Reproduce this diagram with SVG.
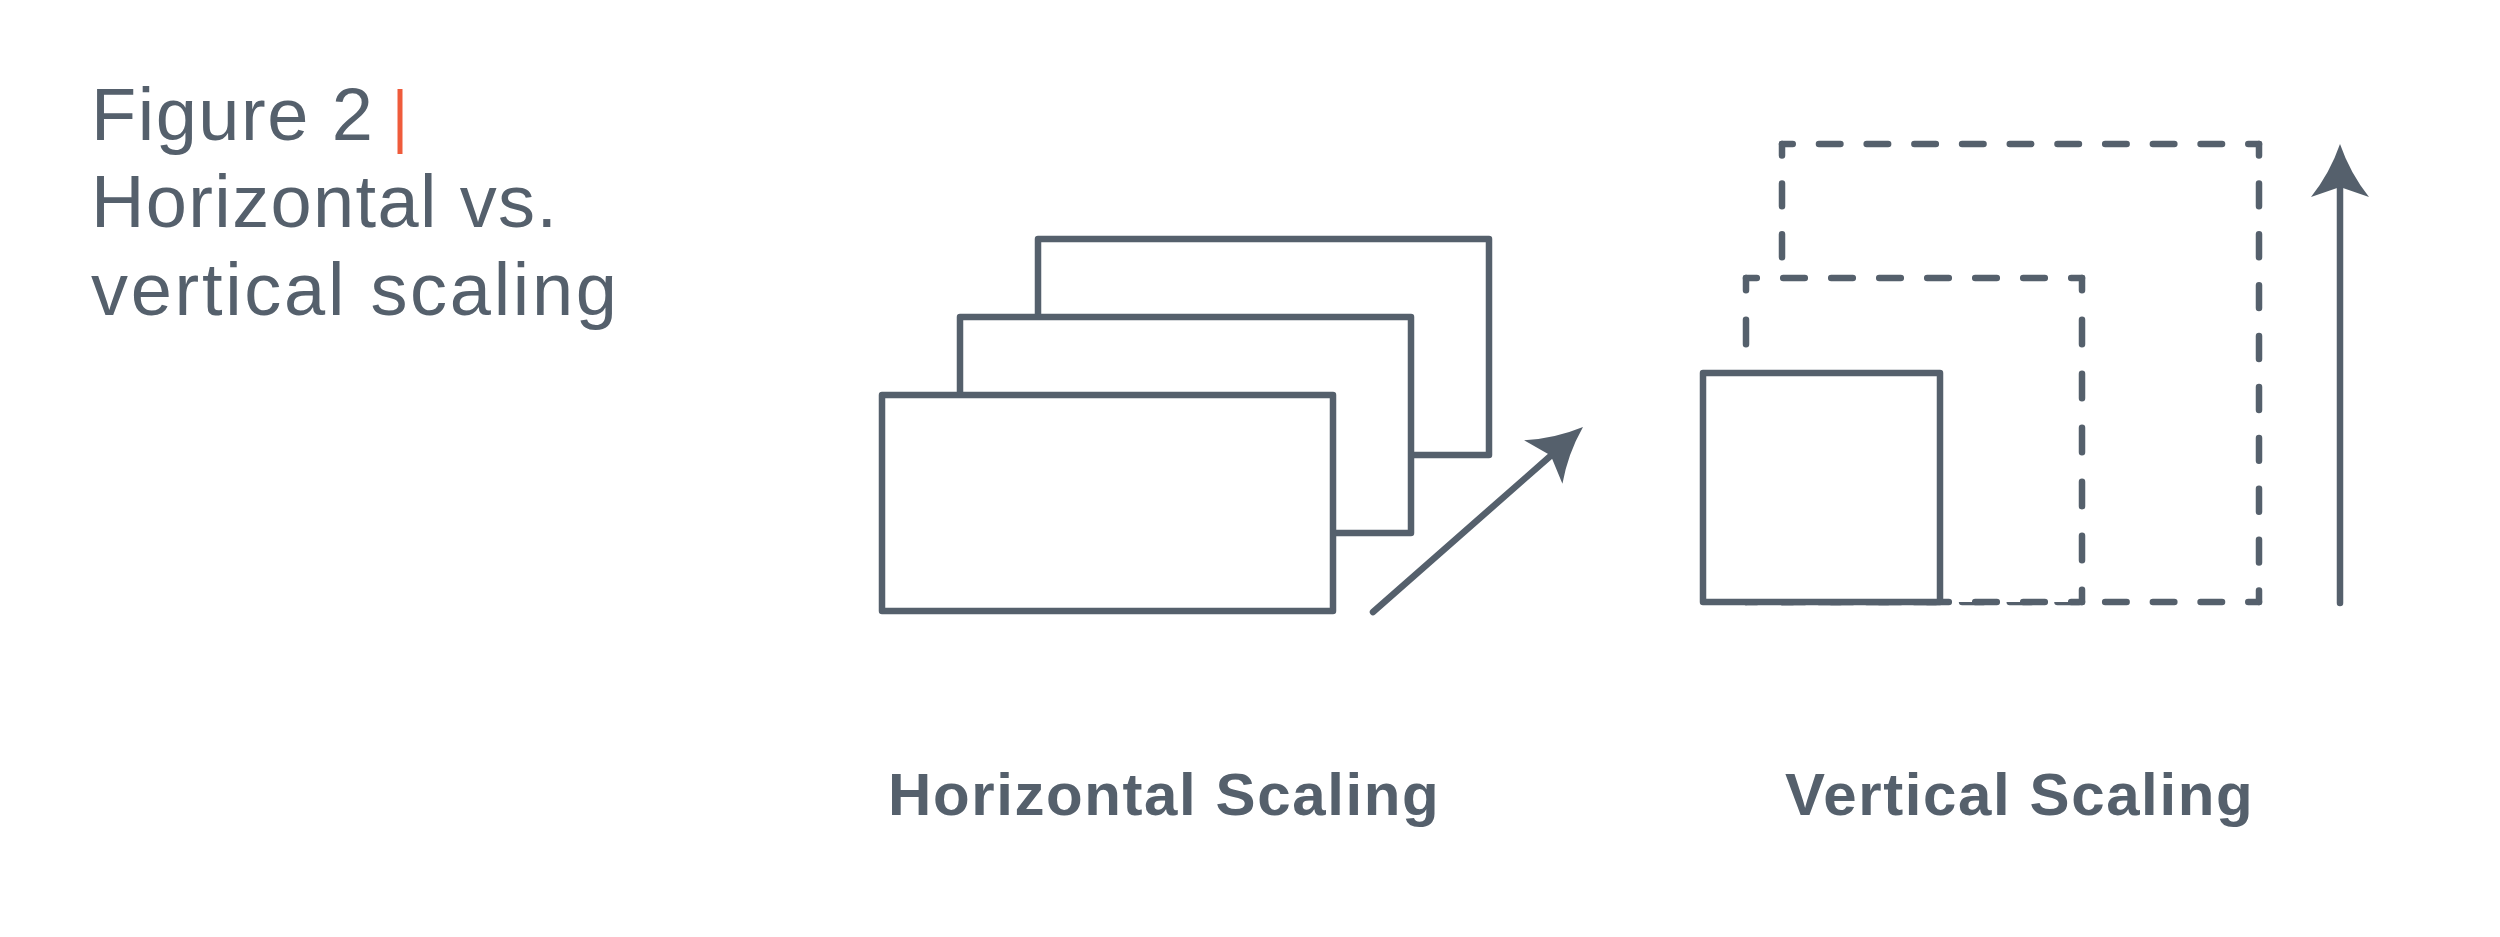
<svg xmlns="http://www.w3.org/2000/svg" width="2500" height="937" viewBox="0 0 2500 937">
<style>
  .title { font-family: "Liberation Sans", Arial, sans-serif; font-size: 74px; fill: #55606c; }
  .label { font-family: "Liberation Sans", Arial, sans-serif; font-size: 60px; font-weight: bold; fill: #55606c; letter-spacing: 1.6px; }
  .box { fill: #ffffff; stroke: #55606c; stroke-width: 6.5; stroke-linejoin: round; stroke-linecap: round; }
  .fill { fill: #ffffff; stroke: none; }
  .dash { fill: none; stroke: #55606c; stroke-width: 6.5; stroke-linecap: round; }
  .line { fill: none; stroke: #55606c; stroke-width: 6.5; stroke-linecap: round; }
  .head { fill: #55606c; stroke: none; }
</style>
<defs>
  <path id="arrowhead" d="M0,0 Q10,29 29,53 L0,43 L-29,53 Q-10,29 0,0 Z"/>
</defs>
<rect x="0" y="0" width="2500" height="937" fill="#ffffff"/>

<g id="title">
  <text class="title" x="91" y="140" textLength="282" lengthAdjust="spacing">Figure 2</text>
  <line x1="400" y1="89" x2="400" y2="154" stroke="#ef5b3b" stroke-width="5"/>
  <text class="title" x="91" y="227" textLength="466" lengthAdjust="spacing">Horizontal vs.</text>
  <text class="title" x="91" y="315" textLength="526" lengthAdjust="spacing">vertical scaling</text>
</g>

<g id="horizontal-back">
  <rect class="box" x="1038" y="239" width="451" height="216"/>
</g>
<g id="horizontal-middle">
  <rect class="box" x="960" y="317" width="451" height="216"/>
</g>
<g id="horizontal-front">
  <rect class="box" x="882" y="395" width="451" height="216"/>
</g>

<g id="vertical-large">
  <rect class="fill" x="1782" y="144" width="477" height="458"/>
  <line class="dash" x1="1782" y1="144" x2="2259" y2="144" stroke-dasharray="21.47 26.23" stroke-dashoffset="10.73"/>
  <line class="dash" x1="2259" y1="144" x2="2259" y2="602" stroke-dasharray="22.9 27.99" stroke-dashoffset="11.45"/>
  <line class="dash" x1="2259" y1="602" x2="1782" y2="602" stroke-dasharray="21.47 26.23" stroke-dashoffset="10.73"/>
  <line class="dash" x1="1782" y1="602" x2="1782" y2="144" stroke-dasharray="22.9 27.99" stroke-dashoffset="11.45"/>
</g>
<g id="vertical-middle">
  <rect class="fill" x="1746" y="278" width="336" height="324"/>
  <line class="dash" x1="1746" y1="278" x2="2082" y2="278" stroke-dasharray="21.6 26.4" stroke-dashoffset="10.8"/>
  <line class="dash" x1="2082" y1="278" x2="2082" y2="602" stroke-dasharray="24.3 29.7" stroke-dashoffset="12.15"/>
  <line class="dash" x1="2082" y1="602" x2="1746" y2="602" stroke-dasharray="21.6 26.4" stroke-dashoffset="10.8"/>
  <line class="dash" x1="1746" y1="602" x2="1746" y2="278" stroke-dasharray="24.3 29.7" stroke-dashoffset="12.15"/>
</g>
<g id="vertical-small">
  <rect class="box" x="1703" y="373" width="237" height="229"/>
</g>

<g id="connectors">
  <line class="line" x1="1373" y1="612" x2="1555" y2="452"/>
  <use href="#arrowhead" class="head" transform="translate(1583,427) rotate(48.6)"/>
  <line class="line" x1="2340" y1="603" x2="2340" y2="185"/>
  <use href="#arrowhead" class="head" transform="translate(2340,144)"/>
</g>

<g id="labels">
  <text class="label" x="888" y="815">Horizontal Scaling</text>
  <text class="label" x="1785" y="815">Vertical Scaling</text>
</g>
</svg>
